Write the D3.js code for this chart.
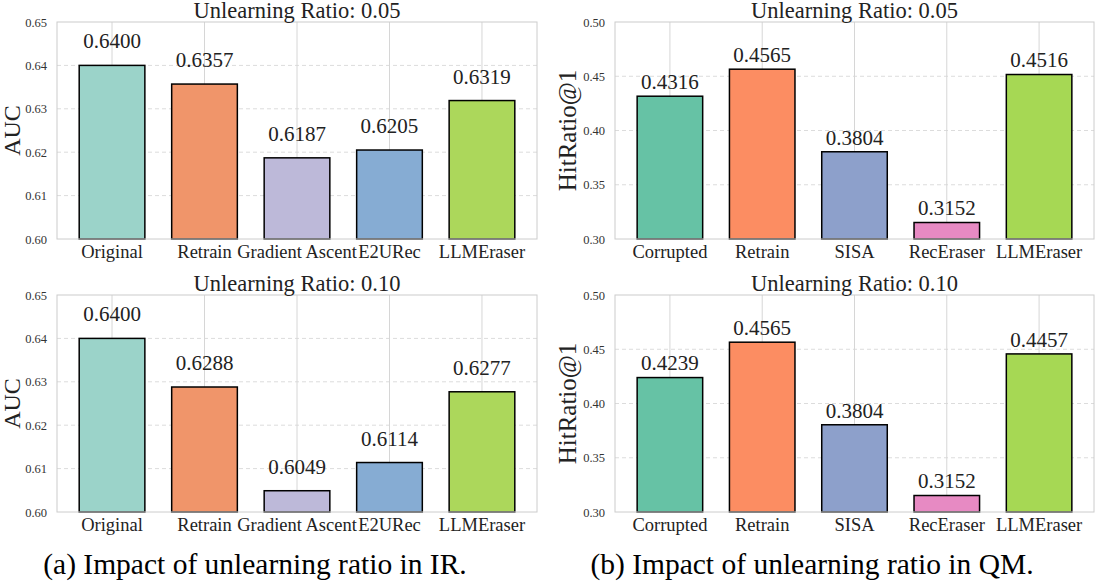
<!DOCTYPE html>
<html>
<head>
<meta charset="utf-8">
<script src="https://cdn.jsdelivr.net/npm/d3@7"></script>
<style>
  body { margin: 0; background: #fff; }
  svg { font-family: "Liberation Serif", "Times New Roman", serif; }
</style>
</head>
<body>
<svg width="1099" height="583"></svg>
<script>
// data
const irCategories = ['Original', 'Retrain', 'Gradient Ascent', 'E2URec', 'LLMEraser'];
const irAuc005 = [0.6400, 0.6357, 0.6187, 0.6205, 0.6319];
const irAuc010 = [0.6400, 0.6288, 0.6049, 0.6114, 0.6277];
const irTicks = [0.60, 0.61, 0.62, 0.63, 0.64, 0.65];
const irColors = ['#9bd3c9', '#f0956a', '#bdb9d9', '#86acd3', '#acd75b'];

const qmCategories = ['Corrupted', 'Retrain', 'SISA', 'RecEraser', 'LLMEraser'];
const qmHr005 = [0.4316, 0.4565, 0.3804, 0.3152, 0.4516];
const qmHr010 = [0.4239, 0.4565, 0.3804, 0.3152, 0.4457];
const qmTicks = [0.30, 0.35, 0.40, 0.45, 0.50];
const qmColors = ['#66c2a5', '#fc8d62', '#8da0cb', '#e78ac3', '#a6d854'];

const svg = d3.select('svg');

function drawPanel(p) {
  const w = p.x1 - p.x0, h = p.y1 - p.y0;
  const g = svg.append('g').attr('transform', `translate(${p.x0},${p.y0})`);

  const x = d3.scaleBand()
    .domain(p.cats)
    .range([0, w])
    .paddingInner(0.29)
    .paddingOuter(0.24);
  const y = d3.scaleLinear()
    .domain([p.ticks[0], p.ticks[p.ticks.length - 1]])
    .range([h, 0]);

  // horizontal dashed grid
  g.selectAll('.hgrid')
    .data(p.ticks.slice(1, -1))
    .enter().append('line')
    .attr('x1', 0).attr('x2', w)
    .attr('y1', d => y(d)).attr('y2', d => y(d))
    .attr('stroke', '#dcdcdc').attr('stroke-dasharray', '4,3');

  // vertical solid grid at bar centres
  g.selectAll('.vgrid')
    .data(p.cats)
    .enter().append('line')
    .attr('x1', d => x(d) + x.bandwidth() / 2).attr('x2', d => x(d) + x.bandwidth() / 2)
    .attr('y1', 0).attr('y2', h)
    .attr('stroke', '#d6d6d6');

  g.selectAll('.bar')
    .data(p.vals)
    .enter().append('rect')
    .attr('x', (d, i) => x(p.cats[i]))
    .attr('y', d => y(d))
    .attr('width', x.bandwidth())
    .attr('height', d => h - y(d))
    .attr('fill', (d, i) => p.colors[i])
    .attr('stroke', '#000')
    .attr('stroke-width', 1.5);

  // value labels, matplotlib-ish: text at value + 0.003, va bottom
  g.selectAll('.val')
    .data(p.vals)
    .enter().append('text')
    .attr('x', (d, i) => x(p.cats[i]) + x.bandwidth() / 2)
    .attr('y', d => y(d + 0.003) - 4)
    .attr('text-anchor', 'middle')
    .attr('font-size', 21)
    .attr('fill', '#222')
    .text(d => d.toFixed(4));

  // frame
  g.append('rect')
    .attr('width', w).attr('height', h)
    .attr('fill', 'none').attr('stroke', '#cccccc');

  const ya = g.append('g')
    .call(d3.axisLeft(y).tickValues(p.ticks).tickSize(0).tickPadding(10).tickFormat(d3.format('.2f')))
    .attr('font-family', null);
  ya.select('.domain').remove();
  ya.selectAll('text').attr('font-size', 12.5).attr('fill', '#333');

  const xa = g.append('g')
    .attr('transform', `translate(0,${h})`)
    .call(d3.axisBottom(x).tickSize(0).tickPadding(6))
    .attr('font-family', null);
  xa.select('.domain').remove();
  xa.selectAll('text').attr('font-size', 18.5).attr('fill', '#222');

  g.append('text')
    .attr('x', w / 2).attr('y', -4)
    .attr('text-anchor', 'middle')
    .attr('font-size', 22.5)
    .attr('fill', '#222')
    .text(p.title);

  g.append('text')
    .attr('transform', `translate(${p.labelX},${h / 2}) rotate(-90)`)
    .attr('text-anchor', 'middle')
    .attr('font-size', p.labelSize)
    .attr('fill', '#222')
    .text(p.label);
}

const leftX = [57, 537], rightX = [615, 1094];
const topY = [22, 239], botY = [295, 512];

drawPanel({ x0: leftX[0], x1: leftX[1], y0: topY[0], y1: topY[1], cats: irCategories, vals: irAuc005,
  ticks: irTicks, colors: irColors, title: 'Unlearning Ratio: 0.05', label: 'AUC', labelX: -37, labelSize: 24 });
drawPanel({ x0: leftX[0], x1: leftX[1], y0: botY[0], y1: botY[1], cats: irCategories, vals: irAuc010,
  ticks: irTicks, colors: irColors, title: 'Unlearning Ratio: 0.10', label: 'AUC', labelX: -37, labelSize: 24 });
drawPanel({ x0: rightX[0], x1: rightX[1], y0: topY[0], y1: topY[1], cats: qmCategories, vals: qmHr005,
  ticks: qmTicks, colors: qmColors, title: 'Unlearning Ratio: 0.05', label: 'HitRatio@1', labelX: -39, labelSize: 25 });
drawPanel({ x0: rightX[0], x1: rightX[1], y0: botY[0], y1: botY[1], cats: qmCategories, vals: qmHr010,
  ticks: qmTicks, colors: qmColors, title: 'Unlearning Ratio: 0.10', label: 'HitRatio@1', labelX: -39, labelSize: 25 });

svg.append('text').attr('x', 255).attr('y', 574).attr('text-anchor', 'middle')
  .attr('font-size', 29.5).attr('fill', '#000').text('(a) Impact of unlearning ratio in IR.');
svg.append('text').attr('x', 812).attr('y', 574).attr('text-anchor', 'middle')
  .attr('font-size', 29.5).attr('fill', '#000').text('(b) Impact of unlearning ratio in QM.');
</script>
</body>
</html>
